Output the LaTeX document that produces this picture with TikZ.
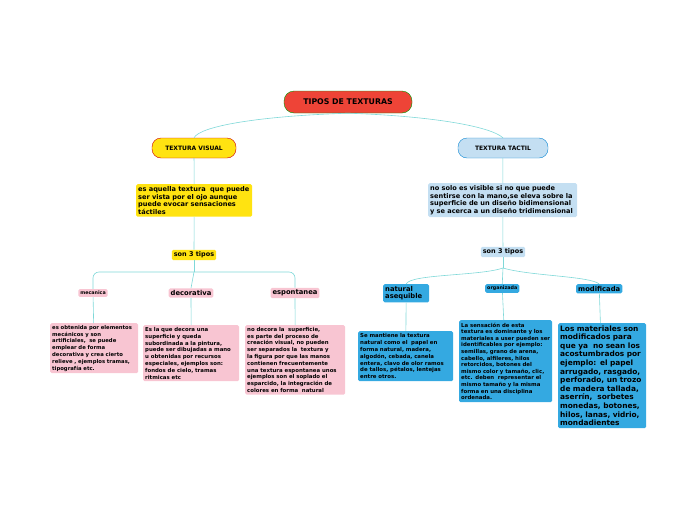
\documentclass[tikz,border=0pt]{standalone}
\usepackage{fontspec}
\setmainfont{DejaVu Sans}
\definecolor{lnc}{HTML}{7FD8D8}
\definecolor{pnk}{HTML}{F8C5D2}
\definecolor{blu}{HTML}{34A9E1}
\definecolor{lbl}{HTML}{C4DFF2}
\definecolor{ylw}{HTML}{FFE311}
\definecolor{rd}{HTML}{EE4437}
\begin{document}
\begin{tikzpicture}[x=1pt,y=-1pt,
 every node/.style={font=\bfseries},
 line/.style={draw=lnc, line width=0.6pt},
 box/.style={rounded corners=1.5pt, inner sep=2pt, align=left, anchor=north west},
 pk/.style={box, fill=pnk},
 bl/.style={box, fill=blu},
 lb/.style={box, fill=lbl},
 yl/.style={box, fill=ylw}]
\useasboundingbox (0,0) rectangle (697,520);
\hyphenpenalty=10000 \exhyphenpenalty=10000
\node[draw=green!60!black, fill=rd, rounded corners=10pt, minimum width=128pt, minimum height=22pt, font=\bfseries\fontsize{7.8}{8}\selectfont] (root) at (348,102) {TIPOS DE TEXTURAS};
\node[draw=red!80!black, fill=ylw, rounded corners=9pt, minimum width=84pt, minimum height=20pt, font=\bfseries\fontsize{6}{6}\selectfont] (vis) at (194,148) {TEXTURA VISUAL};
\node[draw=cyan!70!blue, fill=lbl, rounded corners=9pt, minimum width=90pt, minimum height=20pt, font=\bfseries\fontsize{6}{6}\selectfont] (tac) at (503,148) {TEXTURA TACTIL};
\node[yl, text width=112pt, font=\bfseries\fontsize{6.6}{7.8}\selectfont] (vd) at (136,184) {es aquella textura \ que puede ser vista por el ojo aunque puede evocar sensaciones táctiles};
\node[lb, text width=145pt, font=\bfseries\fontsize{6.6}{7.8}\selectfont] (td) at (428,183) {no solo es visible si no que puede sentirse con la mano,se eleva sobre la superficie de un diseño bidimensional y se acerca a un diseño tridimensional};
\node[yl, anchor=center, font=\bfseries\fontsize{6.5}{7}\selectfont] (v3) at (194,255) {son 3 tipos};
\node[lb, anchor=center, font=\bfseries\fontsize{6.5}{7}\selectfont] (t3) at (503,252) {son 3 tipos};
\node[pk, anchor=center, font=\bfseries\fontsize{4.8}{5}\selectfont] (mec) at (93,293) {mecanica};
\node[pk, anchor=center, font=\bfseries\fontsize{6.8}{7}\selectfont] (dec) at (191,293) {decorativa};
\node[pk, anchor=center, font=\bfseries\fontsize{6.8}{7}\selectfont] (esp) at (295,293) {espontanea};
\node[pk, text width=84pt, minimum height=49pt, font=\bfseries\fontsize{5.3}{6.8}\selectfont] (mecd) at (50,323) {es obtenida por elementos mecánicos y son artificiales, \ se puede emplear de forma decorativa y crea cierto relieve , ejemplos tramas, tipografía etc.};
\node[pk, text width=92pt, minimum height=56pt, font=\bfseries\fontsize{5.4}{6.8}\selectfont] (decd) at (143,325) {Es la que decora una superficie y queda subordinada a la pintura, puede ser dibujadas a mano u obtenidas por recursos especiales, ejemplos son: fondos de cielo, tramas ritmicas etc};
\node[pk, text width=96pt, minimum height=69pt, font=\bfseries\fontsize{5.4}{6.8}\selectfont] (espd) at (245,325) {no decora la \ superficie, es parte del proceso de creación visual, no pueden ser separados la \ textura y la figura por que las manos contienen frecuentemente una textura espontanea unos ejemplos son el soplado el esparcido, la integración de colores en forma \ natural};
\node[bl, text width=42pt, font=\bfseries\fontsize{6.8}{7.6}\selectfont] (nat) at (383,284) {natural asequible};
\node[bl, anchor=north west, font=\bfseries\fontsize{4.8}{5.5}\selectfont] (org) at (485,284) {organizada};
\node[bl, anchor=north west, font=\bfseries\fontsize{6.8}{7.5}\selectfont] (mod) at (576,284) {modificada};
\node[bl, text width=91pt, minimum height=50pt, font=\bfseries\fontsize{5.4}{6.8}\selectfont] (natd) at (358,331) {Se mantiene la textura natural como el \ papel en forma natural, madera, algodón, cebada, canela entera, clavo de olor ramos de tallos, pétalos, lentejas entre otros.};
\node[bl, text width=89pt, minimum height=82pt, font=\bfseries\fontsize{5.4}{6.6}\selectfont] (orgd) at (459,320) {La sensación de esta textura es dominante y los materiales a user pueden ser identificables por ejemplo: semillas, grano de arena, cabello, alfileres, hilos retorcidos, botones del mismo color y tamaño, clic, etc. deben \ representar el mismo tamaño y la misma forma en una disciplina ordenada.};
\node[bl, text width=84pt, minimum height=105pt, font=\bfseries\fontsize{7.4}{8.6}\selectfont] (modd) at (558,323) {Los materiales son modificados para que ya \ no sean los acostumbrados por ejemplo: el papel arrugado, rasgado, perforado, un trozo de madera tallada, aserrín, \ sorbetes monedas, botones, hilos, lanas, vidrio, mondadientes};
\draw[line] (root.south) .. controls (260,116) and (200,126) .. (vis.north);
\draw[line] (root.south) .. controls (430,116) and (490,126) .. (tac.north);
\draw[line] (vis) -- (vd); \draw[line] (vd) -- (v3);
\draw[line] (tac) -- (td); \draw[line] (td) -- (t3);
\draw[line] (v3.south) -- (194,272);
\draw[line] (mec.north) -- (93,278) arc (180:270:6) -- (289,272) arc (270:360:6) -- (esp.north);
\draw[line] (194,272) -- (dec.north);
\draw[line] (mec) -- (mecd); \draw[line] (dec) -- (decd); \draw[line] (esp) -- (espd);
\draw[line] (t3.south) -- (503,268);
\draw[line] (503,268) .. controls (480,276) and (410,274) .. (nat.north);
\draw[line] (503,268) -- (org.north);
\draw[line] (503,268) .. controls (530,276) and (590,276) .. (mod.north);
\draw[line] (nat) -- (natd); \draw[line] (org) -- (orgd); \draw[line] (mod) -- (modd);
\end{tikzpicture}
\end{document}
